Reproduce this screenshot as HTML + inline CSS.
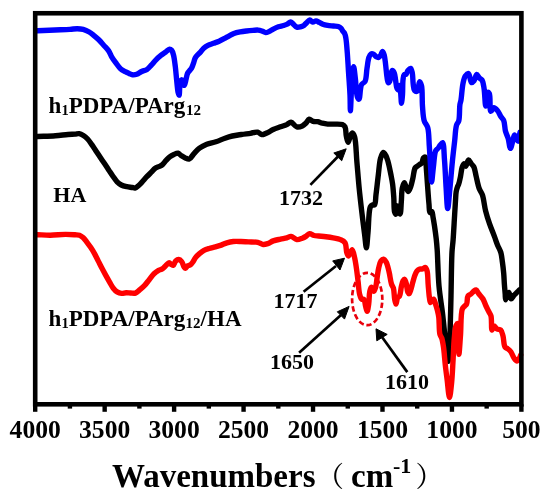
<!DOCTYPE html>
<html><head><meta charset="utf-8"><style>
html,body{margin:0;padding:0;background:#fff;}
body{width:550px;height:499px;overflow:hidden;}
svg{display:block;}
</style></head><body>
<svg width="550" height="499" viewBox="0 0 550 499">
<rect x="0" y="0" width="550" height="499" fill="#fff"/>
<ellipse cx="367.2" cy="299" rx="15.1" ry="26.2" fill="none" stroke="#e8000c" stroke-width="2.7" stroke-dasharray="5.4 2.8" stroke-dashoffset="4.5"/>
<g fill="none" stroke-linejoin="round" stroke-linecap="round">
<path d="M37.50,136.50 C43.47,136.27 49.96,136.19 55.40,135.80 C59.97,135.47 64.41,134.79 68.00,134.50 C70.67,134.29 72.96,134.26 75.00,134.10 C76.58,133.98 77.83,133.49 79.20,133.70 C80.63,133.92 82.06,134.68 83.40,135.50 C84.87,136.40 86.28,137.61 87.60,139.00 C89.10,140.58 90.43,142.65 91.80,144.60 C93.23,146.64 94.60,148.88 96.00,151.00 C97.40,153.11 98.79,155.20 100.20,157.30 C101.62,159.40 103.08,161.50 104.50,163.60 C105.91,165.70 107.30,167.80 108.70,169.90 C110.10,172.00 111.47,174.18 112.90,176.20 C114.27,178.14 115.59,180.28 117.10,181.80 C118.41,183.12 119.72,184.19 121.30,185.00 C122.97,185.85 125.02,186.28 126.90,186.70 C128.75,187.11 131.01,187.22 132.50,187.50 C133.50,187.69 134.14,188.26 135.00,188.10 C136.09,187.89 137.29,186.64 138.40,185.70 C139.63,184.67 140.73,183.44 142.00,182.10 C143.51,180.50 145.17,178.42 146.80,176.70 C148.38,175.03 150.12,173.40 151.60,171.90 C152.89,170.59 153.85,169.13 155.20,168.20 C156.47,167.33 158.12,167.04 159.40,166.40 C160.53,165.83 161.50,165.44 162.50,164.60 C163.75,163.56 164.87,161.72 166.10,160.40 C167.28,159.13 168.38,157.81 169.70,156.80 C170.99,155.82 172.46,155.01 173.90,154.40 C175.27,153.82 176.87,152.95 178.10,153.20 C179.25,153.43 179.98,154.84 181.10,155.60 C182.35,156.45 183.88,157.43 185.30,158.00 C186.61,158.53 188.03,159.40 189.30,159.00 C190.97,158.47 192.34,155.37 194.00,153.60 C195.73,151.77 197.42,149.75 199.50,148.20 C201.66,146.59 204.16,145.25 206.80,144.20 C209.60,143.08 212.90,142.79 215.90,141.80 C218.96,140.79 222.11,139.20 225.00,138.20 C227.55,137.31 229.71,136.60 232.30,136.00 C235.15,135.34 238.36,134.95 241.40,134.50 C244.43,134.05 247.65,133.71 250.50,133.30 C253.04,132.94 255.75,131.80 257.70,132.20 C259.20,132.51 260.35,134.20 261.40,134.50 C262.08,134.69 262.48,134.65 263.20,134.50 C264.38,134.26 266.15,133.36 267.70,132.60 C269.47,131.73 271.20,130.43 273.20,129.50 C275.42,128.47 278.15,127.64 280.50,126.80 C282.67,126.02 284.94,125.43 286.80,124.60 C288.37,123.90 289.53,122.18 291.00,122.30 C292.82,122.45 294.78,126.29 296.80,126.80 C298.56,127.25 300.73,126.57 302.30,125.90 C303.71,125.30 304.78,124.26 305.90,123.20 C307.10,122.06 307.93,119.44 309.20,119.20 C310.39,118.97 311.78,120.98 313.20,121.40 C314.61,121.81 316.21,121.41 317.70,121.70 C319.24,122.00 320.69,122.81 322.30,123.20 C324.01,123.62 325.76,123.94 327.70,124.10 C329.94,124.29 332.57,124.02 335.00,124.10 C337.43,124.18 340.53,123.90 342.30,124.60 C343.52,125.08 344.34,125.63 345.00,126.80 C346.07,128.69 345.72,133.15 346.30,135.90 C346.79,138.24 347.41,142.27 348.10,142.30 C348.80,142.33 349.65,137.58 350.50,135.90 C351.11,134.70 351.76,132.98 352.40,133.00 C353.13,133.02 353.99,134.94 354.60,136.90 C356.05,141.55 356.15,153.61 356.90,162.00 C357.65,170.44 358.27,178.95 359.10,187.40 C359.93,195.85 360.94,204.52 361.90,212.70 C362.81,220.42 363.87,228.78 364.70,235.20 C365.32,240.01 365.87,247.81 366.40,247.80 C366.98,247.79 367.44,238.17 368.00,232.40 C368.72,224.99 368.61,210.62 370.30,207.00 C370.86,205.80 371.55,205.31 372.30,205.00 C372.97,204.72 373.93,205.50 374.50,205.00 C375.76,203.91 375.47,198.61 376.00,194.60 C376.72,189.12 377.52,181.34 378.30,175.10 C379.02,169.34 379.33,162.59 380.50,158.50 C381.23,155.93 382.18,152.65 383.20,152.50 C383.99,152.38 385.06,154.25 385.80,155.50 C386.74,157.09 387.29,159.07 388.00,161.50 C389.05,165.09 390.19,171.03 391.00,175.10 C391.66,178.40 392.16,180.79 392.60,184.10 C393.14,188.13 393.47,193.02 393.80,197.60 C394.14,202.32 393.80,209.35 394.60,212.00 C394.94,213.11 395.54,214.27 395.90,214.20 C396.54,214.07 396.58,206.04 397.10,206.00 C397.52,205.97 398.01,209.76 398.60,211.20 C399.05,212.30 399.70,214.08 400.10,214.00 C400.88,213.85 400.94,206.24 401.30,202.10 C401.69,197.60 401.53,191.55 402.30,188.00 C402.79,185.73 403.64,182.61 404.30,182.60 C404.91,182.59 405.44,185.61 406.10,187.10 C406.77,188.61 407.55,191.59 408.30,191.60 C409.05,191.61 409.92,188.90 410.60,187.10 C411.52,184.66 412.17,181.19 412.90,178.10 C413.67,174.84 413.92,169.94 415.10,168.00 C415.74,166.96 416.63,166.70 417.40,166.10 C418.13,165.53 418.85,165.02 419.60,164.50 C420.35,163.98 421.30,163.80 421.90,163.00 C422.72,161.90 422.59,158.97 423.40,158.00 C423.93,157.37 424.90,156.72 425.40,157.00 C426.51,157.63 425.98,163.87 426.30,168.00 C426.71,173.31 427.15,180.15 427.60,186.20 C428.05,192.22 428.52,199.35 429.00,204.20 C429.33,207.50 429.08,212.03 430.00,212.50 C430.46,212.73 431.33,211.29 431.80,211.50 C432.56,211.84 432.61,214.86 433.00,216.90 C433.51,219.53 434.01,222.72 434.50,226.00 C435.08,229.86 435.74,234.50 436.20,238.60 C436.63,242.49 436.86,245.13 437.20,250.00 C437.79,258.64 438.00,274.77 439.00,286.00 C439.89,295.94 441.57,305.12 442.60,314.00 C443.54,322.04 444.22,329.80 445.00,337.00 C445.69,343.37 446.33,350.53 447.00,355.00 C447.40,357.68 447.85,361.42 448.20,361.40 C448.66,361.38 449.01,354.06 449.30,350.00 C449.63,345.35 449.78,341.17 450.00,335.00 C450.36,325.05 450.68,309.39 451.00,296.00 C451.34,281.78 451.43,262.06 452.00,252.00 C452.30,246.74 452.75,244.57 453.10,240.00 C453.56,233.91 453.99,225.51 454.40,218.70 C454.78,212.42 455.15,205.59 455.50,200.60 C455.74,197.08 455.74,194.20 456.20,191.60 C456.56,189.55 457.20,187.50 457.70,186.20 C458.00,185.42 458.30,185.22 458.60,184.40 C459.19,182.81 459.84,179.73 460.40,177.10 C461.05,174.06 461.39,169.64 462.20,167.20 C462.71,165.66 463.36,163.64 464.00,163.60 C464.57,163.56 465.19,166.36 465.80,166.30 C466.68,166.22 467.48,160.12 468.50,160.00 C469.32,159.90 470.29,162.42 471.20,163.60 C472.09,164.76 473.17,165.51 473.90,167.00 C474.94,169.13 475.22,172.44 476.00,175.60 C476.95,179.47 477.91,185.00 479.20,188.50 C480.15,191.07 481.48,192.21 482.40,194.90 C483.79,198.96 484.34,205.89 485.60,210.90 C486.74,215.43 488.04,219.47 489.50,223.70 C490.97,227.97 492.96,232.55 494.40,236.40 C495.60,239.60 496.48,242.43 497.60,245.20 C498.62,247.74 500.01,249.77 500.80,252.40 C501.68,255.32 501.93,258.66 502.40,262.00 C502.91,265.61 503.37,269.54 503.70,273.30 C504.03,277.04 504.14,280.91 504.40,284.50 C504.64,287.82 504.99,291.33 505.20,294.10 C505.36,296.22 505.27,299.67 505.60,299.70 C505.93,299.73 506.47,295.34 507.20,294.10 C507.66,293.32 508.29,292.39 508.80,292.50 C509.68,292.69 510.24,298.75 511.20,298.90 C511.94,299.01 512.86,296.67 513.70,295.70 C514.46,294.82 515.21,294.09 516.00,293.30 C516.81,292.49 517.77,291.59 518.50,290.90 C519.06,290.37 519.50,289.97 520.00,289.50" stroke="#000" stroke-width="5.4"/>
<path d="M37.50,234.70 C41.77,234.87 45.85,235.23 50.30,235.20 C55.15,235.17 61.03,234.42 65.50,234.40 C69.04,234.38 72.42,234.63 75.00,234.80 C76.78,234.92 78.12,234.71 79.50,235.20 C80.89,235.70 82.11,236.71 83.30,237.80 C84.63,239.02 85.78,240.72 87.00,242.30 C88.29,243.97 89.57,245.76 90.80,247.60 C92.08,249.52 93.30,251.46 94.50,253.60 C95.81,255.94 97.03,258.60 98.30,261.10 C99.57,263.60 100.82,266.17 102.10,268.60 C103.32,270.93 104.55,273.15 105.80,275.40 C107.05,277.65 108.33,279.93 109.60,282.10 C110.83,284.19 111.94,286.49 113.30,288.20 C114.47,289.67 115.67,291.03 117.10,291.90 C118.45,292.72 120.08,293.27 121.60,293.40 C123.09,293.52 124.60,292.77 126.10,292.70 C127.60,292.63 129.08,292.93 130.60,293.00 C132.17,293.07 133.93,293.58 135.40,293.10 C136.94,292.60 138.17,291.07 139.60,289.90 C141.17,288.62 142.87,287.30 144.40,285.70 C146.08,283.94 147.60,281.70 149.20,279.70 C150.80,277.70 152.35,275.29 154.00,273.70 C155.36,272.39 156.74,271.43 158.20,270.60 C159.58,269.82 161.21,269.67 162.50,268.80 C163.85,267.89 164.94,266.28 166.10,265.20 C167.13,264.24 168.15,262.61 169.10,262.60 C169.94,262.59 170.72,264.16 171.50,264.60 C172.11,264.94 172.74,265.41 173.30,265.20 C174.20,264.86 174.68,261.96 175.70,261.00 C176.55,260.20 177.72,259.43 178.70,259.50 C179.72,259.58 180.86,260.58 181.70,261.60 C182.76,262.89 183.28,265.90 184.10,267.00 C184.56,267.62 185.00,268.23 185.50,268.20 C186.17,268.16 186.84,266.37 187.70,265.80 C188.52,265.26 189.70,265.34 190.50,264.80 C191.31,264.25 191.79,263.45 192.50,262.50 C193.49,261.16 194.49,258.92 195.70,257.40 C196.84,255.97 198.13,254.76 199.50,253.60 C200.89,252.42 202.39,251.25 204.00,250.40 C205.59,249.55 207.29,249.06 209.10,248.50 C211.07,247.88 213.35,247.48 215.40,246.90 C217.38,246.34 219.29,245.78 221.20,245.10 C223.12,244.42 224.92,243.40 226.90,242.80 C228.94,242.19 231.06,241.72 233.30,241.50 C235.71,241.26 238.37,241.43 240.90,241.50 C243.43,241.57 245.96,241.78 248.50,241.90 C251.06,242.02 254.18,241.92 256.20,242.20 C257.54,242.39 258.38,242.64 259.50,243.00 C260.71,243.39 261.89,244.38 263.20,244.50 C264.61,244.63 266.16,244.12 267.70,243.60 C269.48,243.00 271.19,241.63 273.20,240.90 C275.42,240.09 278.15,239.63 280.50,239.10 C282.67,238.61 284.93,238.30 286.80,237.80 C288.36,237.38 289.52,236.26 291.00,236.40 C292.81,236.57 294.84,239.35 296.80,239.60 C298.61,239.83 300.69,238.80 302.30,238.20 C303.66,237.69 304.74,237.13 305.90,236.40 C307.14,235.62 308.17,233.78 309.50,233.60 C310.89,233.41 312.55,235.10 314.10,235.50 C315.58,235.88 316.92,235.83 318.60,236.00 C320.74,236.22 323.47,236.40 325.90,236.70 C328.34,237.00 330.78,237.32 333.20,237.80 C335.64,238.28 338.43,238.67 340.50,239.60 C342.26,240.39 343.95,241.07 345.00,242.70 C346.43,244.92 346.02,250.31 346.80,252.70 C347.27,254.14 347.83,255.98 348.40,256.00 C348.97,256.02 349.57,253.86 350.20,252.80 C350.84,251.73 351.59,249.52 352.20,249.60 C353.11,249.72 353.92,254.69 354.60,257.60 C355.39,261.00 355.93,264.93 356.50,268.80 C357.11,272.94 357.57,277.41 358.10,281.70 C358.63,285.98 358.82,291.31 359.70,294.50 C360.26,296.54 360.85,298.68 361.80,299.30 C362.40,299.69 363.34,298.87 363.90,299.30 C364.89,300.07 364.95,303.64 365.50,305.70 C366.02,307.63 366.59,311.32 367.10,311.30 C367.67,311.28 368.28,306.86 368.70,304.10 C369.26,300.46 369.08,294.32 369.80,291.30 C370.22,289.55 370.75,287.35 371.40,287.30 C372.08,287.25 373.08,291.35 373.80,291.30 C374.56,291.24 375.29,288.34 375.80,286.50 C376.44,284.21 376.56,281.35 377.00,278.50 C377.51,275.24 377.95,271.15 378.70,268.00 C379.33,265.35 379.89,262.25 381.00,260.80 C381.70,259.89 382.69,259.08 383.50,259.20 C384.47,259.34 385.49,260.93 386.30,262.40 C387.53,264.65 388.27,268.60 389.10,272.00 C390.02,275.78 390.54,281.20 391.50,284.10 C392.08,285.84 392.91,286.38 393.40,288.10 C394.19,290.85 394.13,296.36 394.70,299.30 C395.08,301.25 395.55,304.10 396.00,304.10 C396.52,304.09 396.76,299.05 397.60,297.70 C398.12,296.87 398.97,296.99 399.50,296.10 C400.55,294.32 400.73,289.26 401.40,286.50 C401.91,284.37 402.27,282.14 403.00,280.90 C403.46,280.12 404.13,279.20 404.60,279.30 C405.25,279.43 405.73,281.68 406.20,283.30 C406.87,285.64 407.02,290.40 407.80,292.10 C408.18,292.92 408.69,293.76 409.10,293.70 C409.68,293.62 410.18,291.48 410.70,290.00 C411.43,287.92 412.08,284.80 412.80,282.30 C413.49,279.91 414.11,277.32 414.90,275.30 C415.54,273.66 416.08,272.08 417.00,271.00 C417.78,270.08 418.81,269.32 419.80,269.00 C420.69,268.71 421.69,269.23 422.60,269.00 C423.56,268.76 424.67,267.26 425.40,267.50 C426.21,267.76 426.66,269.39 427.10,271.00 C427.93,274.06 427.81,280.45 428.20,285.00 C428.58,289.34 428.92,294.47 429.40,297.70 C429.70,299.73 429.88,302.50 430.40,302.60 C430.77,302.67 431.25,301.09 431.80,300.50 C432.32,299.94 433.08,298.96 433.60,299.10 C434.33,299.30 434.74,301.70 435.30,303.30 C436.01,305.34 436.81,308.03 437.40,310.40 C437.98,312.73 438.42,314.54 438.80,317.40 C439.38,321.81 438.95,330.89 439.90,334.40 C440.36,336.11 441.18,336.49 441.70,338.00 C442.48,340.29 442.97,343.47 443.50,347.00 C444.24,351.96 444.66,359.33 445.30,365.00 C445.87,370.10 446.44,374.41 447.10,379.50 C447.83,385.18 448.71,397.50 449.50,397.50 C450.21,397.50 451.03,388.42 451.60,383.00 C452.32,376.14 452.64,367.24 453.10,359.60 C453.54,352.26 453.68,344.22 454.30,338.00 C454.77,333.23 454.99,327.62 456.10,325.40 C456.60,324.40 457.41,323.41 457.90,323.60 C459.59,324.27 458.37,354.19 458.90,354.20 C459.31,354.21 459.98,342.12 460.50,335.30 C461.12,327.26 460.65,313.27 462.30,309.00 C462.92,307.40 463.84,306.96 464.60,306.10 C465.27,305.35 466.08,305.11 466.60,304.10 C467.49,302.39 466.91,297.68 468.00,296.00 C468.72,294.89 470.04,294.79 471.00,294.00 C472.04,293.14 473.05,291.69 474.00,291.00 C474.69,290.50 475.33,289.84 476.00,290.00 C477.00,290.24 477.92,292.60 479.00,294.00 C480.23,295.58 481.87,297.11 483.00,299.00 C484.24,301.06 484.97,303.77 486.00,306.00 C486.97,308.09 488.10,310.20 489.00,312.00 C489.73,313.47 490.51,314.20 491.00,316.00 C491.88,319.19 491.12,329.83 492.00,330.00 C492.49,330.10 493.15,326.14 494.00,326.00 C494.83,325.87 495.85,328.33 497.00,329.00 C498.10,329.63 499.75,329.14 500.70,330.00 C501.94,331.12 502.35,333.66 503.00,336.00 C503.86,339.08 503.64,344.92 505.00,347.00 C505.77,348.18 507.04,348.21 508.00,349.00 C509.04,349.86 510.09,350.74 511.00,352.00 C512.14,353.59 512.86,356.41 514.00,358.00 C514.91,359.26 516.07,361.04 517.00,361.00 C517.90,360.96 518.87,359.05 519.50,358.00 C520.07,357.04 520.30,356.00 520.70,355.00" stroke="#ff0000" stroke-width="5.4"/>
<path d="M37.50,30.70 C43.33,30.47 49.39,30.22 55.00,30.00 C60.19,29.79 65.91,29.68 70.00,29.40 C72.84,29.21 74.91,28.68 77.20,28.70 C79.29,28.72 81.24,28.87 83.20,29.40 C85.24,29.95 87.37,30.94 89.20,32.00 C90.95,33.02 92.42,34.32 94.00,35.60 C95.63,36.92 97.23,38.26 98.80,39.80 C100.47,41.44 102.08,43.40 103.70,45.20 C105.31,47.00 107.13,48.61 108.50,50.60 C109.90,52.64 110.75,55.22 112.00,57.30 C113.16,59.23 114.35,60.88 115.70,62.70 C117.16,64.67 118.76,67.15 120.50,68.70 C122.00,70.03 123.78,70.88 125.30,71.70 C126.59,72.40 127.78,72.87 129.00,73.40 C130.18,73.91 131.25,74.63 132.50,74.80 C133.84,74.98 135.38,74.77 136.80,74.30 C138.41,73.76 139.92,72.31 141.60,71.50 C143.32,70.67 145.39,70.43 147.00,69.40 C148.64,68.35 149.87,66.72 151.30,65.20 C152.87,63.54 154.36,61.46 156.00,59.80 C157.57,58.21 159.24,56.73 160.90,55.40 C162.47,54.14 164.20,53.09 165.70,52.00 C167.05,51.03 168.38,49.28 169.50,49.20 C170.31,49.14 171.09,49.71 171.70,50.40 C172.55,51.37 172.98,53.09 173.50,55.00 C174.29,57.94 174.78,62.47 175.30,66.50 C175.87,70.93 176.21,76.02 176.70,80.50 C177.15,84.63 177.50,89.83 178.10,92.40 C178.40,93.68 178.82,95.24 179.10,95.20 C179.66,95.13 179.45,86.06 180.10,83.30 C180.47,81.75 180.91,79.90 181.50,79.80 C182.01,79.72 182.83,81.05 183.30,81.90 C183.84,82.87 184.01,85.41 184.40,85.40 C184.92,85.39 185.57,81.14 186.10,79.10 C186.60,77.18 186.79,74.99 187.50,73.50 C188.05,72.34 188.90,71.63 189.60,70.70 C190.30,69.77 191.07,69.05 191.70,67.90 C192.52,66.40 193.19,64.05 193.80,62.30 C194.33,60.78 194.56,59.24 195.20,58.00 C195.76,56.91 196.50,56.10 197.30,55.20 C198.16,54.23 199.22,53.46 200.20,52.40 C201.34,51.17 202.39,49.38 203.70,48.20 C204.96,47.06 206.35,46.19 207.90,45.40 C209.59,44.54 211.63,44.00 213.50,43.30 C215.37,42.60 217.25,42.00 219.10,41.20 C220.99,40.38 222.99,39.31 224.70,38.40 C226.18,37.61 227.35,36.88 228.80,36.10 C230.40,35.24 232.06,34.19 233.90,33.50 C235.87,32.76 238.16,32.32 240.30,31.90 C242.40,31.49 244.49,31.25 246.60,31.00 C248.72,30.75 250.99,30.55 253.00,30.40 C254.80,30.26 256.53,29.96 258.10,30.10 C259.47,30.22 260.65,30.59 261.90,31.00 C263.18,31.42 264.48,32.54 265.70,32.60 C266.80,32.65 267.78,32.09 268.90,31.60 C270.28,31.00 271.76,29.88 273.30,29.10 C274.92,28.28 276.67,27.40 278.40,26.80 C280.07,26.21 281.93,25.97 283.50,25.50 C284.87,25.09 286.11,24.79 287.30,24.20 C288.51,23.60 289.61,21.82 290.70,21.90 C291.82,21.98 292.85,23.91 293.90,24.80 C294.88,25.63 295.71,26.77 296.80,27.10 C297.88,27.43 299.23,27.08 300.40,26.80 C301.60,26.52 302.84,26.10 303.90,25.40 C305.02,24.66 305.89,23.32 306.90,22.40 C307.85,21.53 308.81,20.04 309.80,20.00 C310.78,19.96 311.75,21.97 312.80,22.10 C313.82,22.23 314.93,20.86 316.00,20.90 C317.10,20.94 318.19,21.86 319.30,22.40 C320.46,22.96 321.51,23.71 322.80,24.20 C324.25,24.74 325.91,25.10 327.60,25.40 C329.45,25.72 331.65,25.81 333.50,26.00 C335.16,26.17 336.87,26.04 338.20,26.50 C339.33,26.89 340.32,27.51 341.10,28.30 C341.89,29.10 342.27,30.38 342.90,31.30 C343.48,32.14 344.23,32.63 344.70,33.60 C345.32,34.86 345.55,36.35 345.90,38.40 C346.51,41.91 346.89,47.74 347.30,52.90 C347.77,58.78 348.08,65.18 348.50,71.80 C348.97,79.14 349.69,88.00 350.00,95.00 C350.26,100.77 350.16,110.80 350.40,110.80 C350.75,110.80 351.36,86.10 352.10,78.00 C352.54,73.21 353.07,66.60 353.60,66.60 C354.13,66.60 354.74,73.71 355.30,78.00 C356.02,83.52 356.18,93.85 357.40,97.00 C357.86,98.19 358.52,99.31 359.00,99.20 C360.13,98.94 359.97,87.41 361.60,84.50 C362.50,82.90 364.14,83.07 365.00,81.50 C366.47,78.81 366.32,72.56 367.00,68.40 C367.62,64.60 367.97,60.07 368.90,57.50 C369.46,55.95 370.00,54.50 370.90,54.00 C371.62,53.60 372.70,53.75 373.50,54.10 C374.46,54.52 375.15,56.15 376.10,56.70 C376.91,57.17 377.95,57.61 378.70,57.40 C379.46,57.19 380.01,56.23 380.60,55.40 C381.34,54.36 381.98,51.48 382.60,51.50 C383.21,51.52 383.84,53.79 384.30,55.40 C384.97,57.77 385.19,61.27 385.60,64.50 C386.06,68.17 386.38,72.96 386.90,76.30 C387.29,78.80 387.46,82.55 388.20,82.80 C388.61,82.94 389.29,82.23 389.70,81.50 C390.51,80.04 390.43,75.62 391.00,73.60 C391.37,72.27 391.74,70.48 392.30,70.40 C392.85,70.33 393.78,71.84 394.30,73.00 C395.07,74.74 395.17,77.75 395.60,80.20 C396.04,82.75 396.11,86.35 396.90,88.00 C397.35,88.94 398.14,90.01 398.60,89.90 C399.23,89.76 399.56,85.37 399.90,85.40 C400.38,85.44 400.53,91.50 400.80,94.50 C401.06,97.43 401.22,103.20 401.50,103.20 C401.78,103.20 402.26,97.77 402.50,94.50 C402.81,90.29 402.56,83.61 403.00,80.00 C403.27,77.82 403.31,75.63 404.10,74.80 C404.58,74.30 405.44,74.75 406.00,74.30 C406.83,73.63 407.15,71.42 408.00,70.40 C408.73,69.52 409.91,68.20 410.60,68.40 C411.44,68.64 411.88,71.10 412.30,73.00 C412.93,75.85 412.75,80.84 413.20,84.00 C413.55,86.43 413.50,89.31 414.50,90.40 C415.16,91.12 416.46,91.62 417.20,91.20 C418.58,90.41 418.71,81.69 419.60,81.60 C420.19,81.54 421.02,83.68 421.50,85.60 C422.55,89.78 421.97,100.21 422.50,106.50 C422.93,111.70 423.05,116.89 424.20,120.70 C425.05,123.50 426.86,124.64 427.70,127.60 C429.00,132.17 428.82,139.52 429.30,146.00 C429.83,153.24 430.27,162.42 430.70,169.00 C431.02,173.95 431.18,181.99 431.60,182.00 C432.06,182.01 432.73,171.94 433.40,166.80 C434.09,161.51 434.28,153.54 435.70,150.70 C436.34,149.43 437.27,149.28 438.00,148.40 C438.82,147.41 439.49,146.00 440.30,145.00 C441.03,144.10 441.98,142.39 442.60,142.60 C444.02,143.08 443.96,153.53 444.50,160.00 C445.18,168.14 445.52,179.04 446.10,187.60 C446.60,195.05 447.05,208.49 447.70,208.50 C448.35,208.51 449.27,194.91 450.00,187.60 C450.81,179.55 451.49,170.23 452.30,162.20 C453.03,154.94 453.86,147.98 454.60,141.50 C455.25,135.77 455.40,128.99 456.50,125.30 C457.12,123.23 458.24,122.77 458.80,120.70 C459.80,117.03 459.33,108.32 459.90,104.60 C460.21,102.58 460.64,102.01 461.00,100.00 C461.66,96.29 461.99,88.39 462.90,84.00 C463.56,80.84 464.06,77.77 465.30,76.00 C466.16,74.77 467.60,73.32 468.50,73.60 C469.89,74.03 470.21,82.18 471.50,82.60 C472.24,82.84 473.26,81.72 474.00,80.80 C475.11,79.42 475.68,74.63 476.70,74.50 C477.52,74.40 478.44,77.04 479.40,78.00 C480.22,78.82 481.31,78.94 482.00,80.00 C483.10,81.68 483.45,84.77 484.00,88.00 C484.82,92.78 485.07,105.99 485.70,106.00 C486.25,106.01 486.21,93.19 487.50,92.50 C488.00,92.24 488.81,92.67 489.30,93.40 C490.77,95.58 489.33,110.94 490.80,111.40 C491.55,111.64 492.69,107.93 493.80,107.80 C494.89,107.67 496.31,109.27 497.40,110.50 C498.78,112.06 499.84,115.01 501.00,116.80 C501.92,118.23 503.00,118.84 503.70,120.50 C504.78,123.07 504.64,128.10 505.50,131.30 C506.22,133.98 507.42,135.88 508.20,138.50 C509.09,141.51 509.58,148.36 510.40,148.40 C511.10,148.43 512.00,143.53 512.70,141.20 C513.35,139.04 513.79,134.97 514.50,134.90 C515.06,134.84 515.75,137.40 516.40,138.50 C516.98,139.48 517.69,141.30 518.20,141.20 C519.06,141.03 519.40,135.20 520.00,132.20" stroke="#0000ff" stroke-width="5.4"/>
</g>
<rect x="35.2" y="13.25" width="486.20" height="391.05" fill="none" stroke="#000" stroke-width="4.6"/>
<g stroke="#000" stroke-width="4.4"><line x1="35.20" y1="404.3" x2="35.20" y2="411.8" /><line x1="69.93" y1="404.3" x2="69.93" y2="408.6" /><line x1="104.66" y1="404.3" x2="104.66" y2="411.8" /><line x1="139.39" y1="404.3" x2="139.39" y2="408.6" /><line x1="174.11" y1="404.3" x2="174.11" y2="411.8" /><line x1="208.84" y1="404.3" x2="208.84" y2="408.6" /><line x1="243.57" y1="404.3" x2="243.57" y2="411.8" /><line x1="278.30" y1="404.3" x2="278.30" y2="408.6" /><line x1="313.03" y1="404.3" x2="313.03" y2="411.8" /><line x1="347.76" y1="404.3" x2="347.76" y2="408.6" /><line x1="382.49" y1="404.3" x2="382.49" y2="411.8" /><line x1="417.21" y1="404.3" x2="417.21" y2="408.6" /><line x1="451.94" y1="404.3" x2="451.94" y2="411.8" /><line x1="486.67" y1="404.3" x2="486.67" y2="408.6" /><line x1="521.40" y1="404.3" x2="521.40" y2="411.8" /></g>
<g font-family="'Liberation Serif', serif" font-weight="bold" font-size="25.6" fill="#000"><text x="35.20" y="437.8" text-anchor="middle">4000</text><text x="104.66" y="437.8" text-anchor="middle">3500</text><text x="174.11" y="437.8" text-anchor="middle">3000</text><text x="243.57" y="437.8" text-anchor="middle">2500</text><text x="313.03" y="437.8" text-anchor="middle">2000</text><text x="382.49" y="437.8" text-anchor="middle">1500</text><text x="451.94" y="437.8" text-anchor="middle">1000</text><text x="521.40" y="437.8" text-anchor="middle">500</text></g>
<g font-family="'Liberation Serif', serif" font-weight="bold" font-size="23" fill="#000">
<text x="48.6" y="112.9">h<tspan font-size="14.5" dy="2">1</tspan><tspan dy="-2">PDPA/PArg</tspan><tspan font-size="15" dy="2" dx="0.8">12</tspan></text>
<text x="48.6" y="326.3">h<tspan font-size="14.5" dy="2">1</tspan><tspan dy="-2">PDPA/PArg</tspan><tspan font-size="15" dy="2" dx="0.3">12</tspan><tspan dy="-2">/HA</tspan></text>
</g>
<g font-family="'Liberation Serif', serif" font-weight="bold" font-size="22" fill="#000">
<text x="53.3" y="201.5">HA</text>
<text x="279" y="205">1732</text>
<text x="273.5" y="307.8">1717</text>
<text x="270" y="368.8">1650</text>
<text x="385" y="389.4">1610</text>
</g>
<g stroke="#000" stroke-width="2.7" fill="#000">
<line x1="310.4" y1="184.9" x2="338" y2="156.5"/>
<polygon points="346.2,148.8 333.8,153 341.7,160.8" stroke-width="1"/>
<line x1="303.6" y1="291.8" x2="336" y2="266"/>
<polygon points="344.5,258.2 332.7,260.9 340,270" stroke-width="1"/>
<line x1="299.1" y1="352.7" x2="341" y2="315"/>
<polygon points="349.1,306.4 337.3,311.8 344.5,319.1" stroke-width="1"/>
<line x1="407.3" y1="372.1" x2="382" y2="337"/>
<polygon points="376,328.8 376.8,340.8 387.2,334.4" stroke-width="1"/>
</g>
<g fill="#000">
<text x="112" y="486.5" font-family="'Liberation Serif', serif" font-weight="bold" font-size="33">Wavenumbers</text>
<text x="316" y="486.5" font-family="'Liberation Serif', 'Noto Serif CJK SC', serif" font-weight="500" font-size="28">（</text>
<text x="351" y="486.5" font-family="'Liberation Serif', serif" font-weight="bold" font-size="33">cm</text>
<text x="393" y="472.7" font-family="'Liberation Serif', serif" font-weight="bold" font-size="22">-1</text>
<text x="415.5" y="486.5" font-family="'Liberation Serif', 'Noto Serif CJK SC', serif" font-weight="500" font-size="28">）</text>
</g>
</svg>
</body></html>
